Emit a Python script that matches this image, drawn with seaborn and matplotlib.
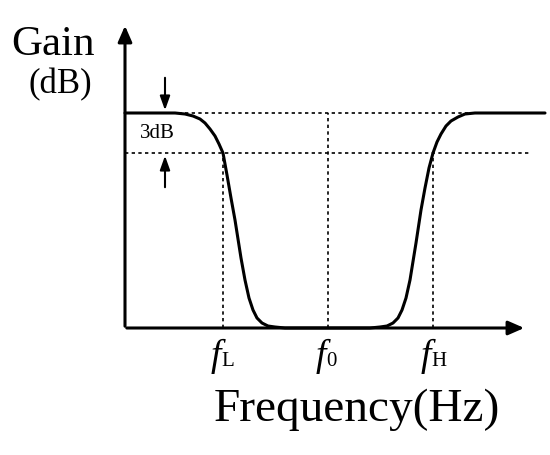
import numpy as np
import pandas as pd
import seaborn as sns
import matplotlib.pyplot as plt

# band-stop response (x: freq units, y: gain units)
freq = [0, 50, 60, 68, 75, 80, 85, 90, 94, 98, 102, 106, 110, 116, 120, 124, 128, 132, 137, 143, 150, 160,
        245, 255, 262, 268, 273, 277, 281, 285, 291, 296, 300, 304, 308, 312, 316, 321, 326, 333, 340, 350, 420]
gain = [215, 215, 214, 212, 209, 205, 199, 192, 184, 175, 153, 130, 108, 70, 48, 30, 18, 10, 5, 2, 1, 0,
        0, 1, 2, 5, 10, 18, 30, 48, 85, 118, 140, 160, 175, 186, 194, 202, 207, 211, 214, 215, 215]
top_level = 215
db3_level = 175
f_marks = [98, 203, 308]
f_names = ["L", "0", "H"]

sns.set_theme(style="white")
plt.rcParams['font.family'] = ['Liberation Serif', 'DejaVu Serif']
plt.rcParams['text.color'] = 'black'

fig = plt.figure(figsize=(5.5, 4.55), dpi=100)
ax = fig.add_axes([0, 0, 1, 1])
df = pd.DataFrame({"f": freq, "g": gain})
sns.lineplot(data=df, x="f", y="g", ax=ax, color="black", linewidth=2.2)
ax.set_xlim(-125, 425)
ax.set_ylim(-127, 328)
ax.axis("off")

# axes arrows
arr = dict(arrowstyle="-|>,head_length=0.8,head_width=0.35", color="black", lw=2.2)
ax.annotate("", xy=(0, 305), xytext=(0, -1), arrowprops=arr)
ax.annotate("", xy=(402, 0), xytext=(-1, 0), arrowprops=arr)

# dotted reference lines
ax.plot([0, 420], [top_level, top_level], ls=(0, (2, 2)), color="black", lw=1.2)
ax.plot([0, 405], [db3_level, db3_level], ls=(0, (2, 2)), color="black", lw=1.2)
for i, x in enumerate(f_marks):
    ytop = top_level if i == 1 else db3_level
    ax.plot([x, x], [0, ytop], ls=(0, (2, 2)), color="black", lw=1.2)
    ax.text(x - 2, -28, "f", fontsize=27, ha="right", va="center", style="italic")
    ax.text(x - 2, -34, f_names[i], fontsize=15, ha="left", va="center")

# 3dB arrows
sm = dict(arrowstyle="-|>,head_length=0.7,head_width=0.25", color="black", lw=1.5)
ax.annotate("", xy=(40, top_level), xytext=(40, 253), arrowprops=sm)
ax.annotate("", xy=(40, db3_level), xytext=(40, 138), arrowprops=sm)
ax.text(15, 195, "3dB", fontsize=15, va="center")

ax.text(-114, 283, "Gain", fontsize=31, va="center")
ax.text(-96, 243, "(dB)", fontsize=25, va="center")
ax.text(232, -82, "Frequency(Hz)", fontsize=34, ha="center", va="center")

fig.savefig("out.png", dpi=100)
